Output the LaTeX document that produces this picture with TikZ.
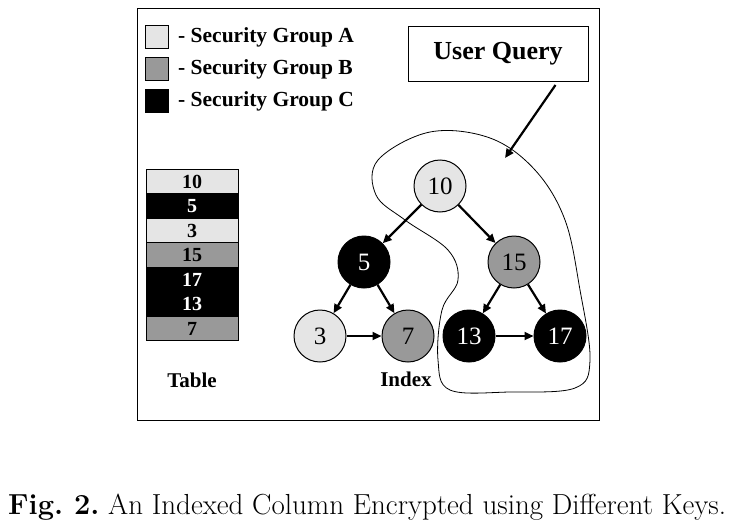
\documentclass[tikz,border=0pt]{standalone}
\usepackage{fontspec}
\newfontfamily\tnr{Liberation Serif}
\usetikzlibrary{arrows.meta}
\definecolor{lg}{gray}{0.9}
\definecolor{mg}{gray}{0.6}
\begin{document}
\begin{tikzpicture}[x=1pt,y=-1pt,
 nd/.style={circle,draw,line width=1pt,minimum size=52pt,inner sep=0pt,font=\tnr\fontsize{25}{28}\selectfont},
 ar/.style={-{Triangle[length=9pt,width=8pt]},line width=2.2pt},
 lab/.style={font=\tnr\bfseries\fontsize{21.5}{24}\selectfont,anchor=west,inner sep=0pt},
 cell/.style={draw,line width=0.8pt,minimum width=92pt,minimum height=24.5pt,inner sep=0pt,font=\tnr\bfseries\fontsize{20}{22}\selectfont}]
\useasboundingbox (0,0) rectangle (733,522);
\draw[line width=1pt] (137,8) rectangle (599,420);
% legend
\node[draw,fill=lg,minimum size=23pt,inner sep=0pt] (sa) at (157,37) {};
\node[draw,fill=mg,minimum size=23pt,inner sep=0pt] (sb) at (157,69) {};
\node[draw,fill=black,minimum size=23pt,inner sep=0pt] (sc) at (157,101) {};
\node[lab] (la) at (178,37) {- Security Group A};
\node[lab] (lb) at (178,69) {- Security Group B};
\node[lab] (lc) at (178,101) {- Security Group C};
\node[draw,line width=1pt,minimum width=180pt,minimum height=55pt,font=\tnr\bfseries\fontsize{26}{28}\selectfont] (uq) at (498,54) {User Query};
% table
\node[cell,fill=lg] (t1) at (192,181.5) {10};
\node[cell,fill=black,text=white] (t2) at (192,206) {5};
\node[cell,fill=lg] (t3) at (192,230.5) {3};
\node[cell,fill=mg] (t4) at (192,255) {15};
\node[cell,fill=black,text=white] (t5) at (192,279.5) {17};
\node[cell,fill=black,text=white] (t6) at (192,304) {13};
\node[cell,fill=mg] (t7) at (192,328.5) {7};
\node[font=\tnr\bfseries\fontsize{21}{24}\selectfont,inner sep=0pt] (tl) at (192,380) {Table};
% tree
\node[nd,fill=lg] (n10) at (440,186) {10};
\node[nd,fill=black,text=white] (n5) at (364,262) {5};
\node[nd,fill=mg] (n15) at (514,262) {15};
\node[nd,fill=lg] (n3) at (320,336) {3};
\node[nd,fill=mg] (n7) at (408,336) {7};
\node[nd,fill=black,text=white] (n13) at (469,336) {13};
\node[nd,fill=black,text=white] (n17) at (560,336) {17};
\node[font=\tnr\bfseries\fontsize{21}{24}\selectfont,inner sep=0pt] (il) at (406,379) {Index};
\draw[ar] (n10) -- (n5);
\draw[ar] (n10) -- (n15);
\draw[ar] (n5) -- (n3);
\draw[ar] (n5) -- (n7);
\draw[ar] (n15) -- (n13);
\draw[ar] (n15) -- (n17);
\draw[ar] (n3) -- (n7);
\draw[ar] (n13) -- (n17);
% query region
\draw[line width=0.8pt] plot[smooth cycle,tension=0.6] coordinates {(378,160) (430,132) (490,138) (535,170) (565,220) (580,290) (590,360) (575,388) (510,392) (450,390) (438,360) (442,310) (458,280) (448,250) (405,220) (376,195)};
\coordinate (qe) at (505,158);
\draw[ar] (uq.south east) ++(-33,3) -- (qe);
\node[anchor=west,inner sep=0pt,font=\fontsize{29}{32}\selectfont\frenchspacing] (cap) at (8,507) {\textbf{Fig. 2.} An Indexed Column Encrypted using Different Keys.};
\end{tikzpicture}
\end{document}
